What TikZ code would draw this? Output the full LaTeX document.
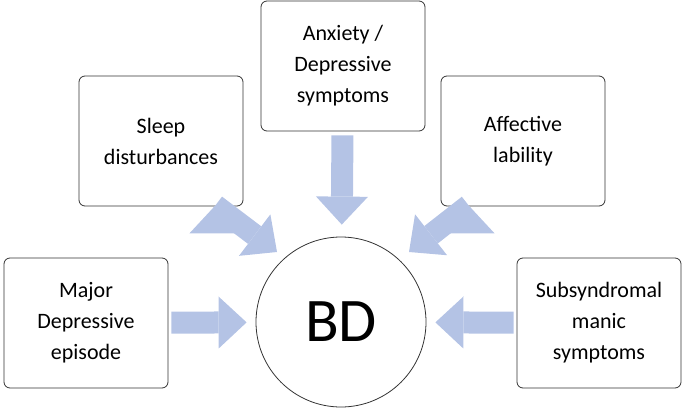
\documentclass[tikz,border=0pt]{standalone}
\usepackage{fontspec}
\setmainfont{Carlito}
\usetikzlibrary{arrows.meta,positioning}
\definecolor{arrowblue}{HTML}{B4C3E5}
\tikzset{%
	symptom/.style={draw=black!80, thick, rounded corners=6pt, minimum width=164pt, minimum height=130pt, align=center, font=\fontsize{22}{31}\selectfont},
	core/.style={circle, draw=black!80, thick, minimum size=170pt, font=\fontsize{62}{62}\selectfont},
	toBD/.style={draw=arrowblue, line width=22pt, -{Triangle[width=52pt,length=28pt,line width=0pt,fill=arrowblue]}}}

\begin{document}
\begin{tikzpicture}[x=1pt,y=-1pt]
		\useasboundingbox (0,0) rectangle (685,412);
		\node[core] (BD) at (341,322) {BD};
		\node[symptom] (MDE) at (86,323) {Major\\Depressive\\episode};
		\node[symptom] (SD) at (161,141) {Sleep\\disturbances};
		\node[symptom] (AD) at (343,66) {Anxiety /\\Depressive\\symptoms};
		\node[symptom] (AL) at (523,141) {Affective\\lability};
		\node[symptom] (SMS) at (599,323) {Subsyndromal\\manic\\symptoms};
		
		\coordinate (SDend) at (277,252);
		\coordinate (ALend) at (409,252);
		
		\path[toBD] (MDE) 	edge [shorten <=3pt, shorten >=9pt] 	(BD);
		\path[toBD] (AD) 	edge [shorten <=4pt, shorten >=12pt] 	(BD);
		\path[toBD] (SMS) 	edge [shorten <=3pt, shorten >=9pt] 	(BD);
		\path[toBD] ([shift={(-28,-1)}]SD.south east) 	edge 	(SDend);
		\path[toBD] ([shift={(28,-1)}]AL.south west) 	edge 	(ALend);
	\end{tikzpicture}
\end{document}
